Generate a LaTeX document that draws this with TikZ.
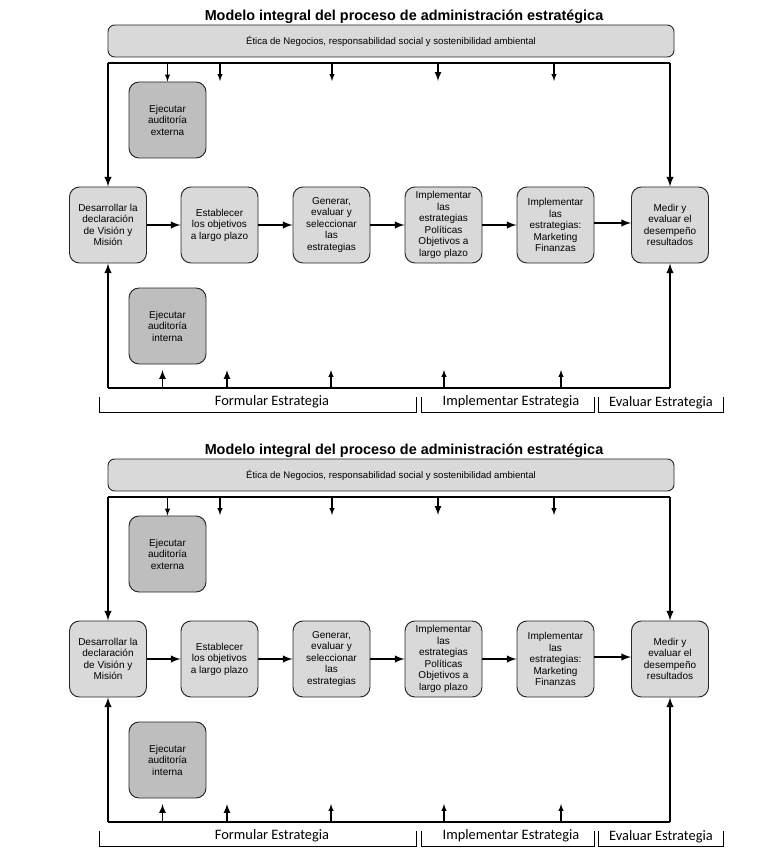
\documentclass[tikz,border=0pt]{standalone}
\usepackage{fontspec}
\setmainfont{Liberation Sans}
\newfontfamily\calibri{Carlito}
\definecolor{grisclaro}{HTML}{D9D9D9}
\definecolor{grisoscuro}{HTML}{BEBEBE}

\begin{document}
\begin{tikzpicture}[
	x=0.75pt, y=-0.75pt,
	>=latex,
	micaja/.style ={draw=black!85, fill=grisclaro, rounded corners=7.5pt, line width=0.7pt,
		minimum width=57.75pt, minimum height=57pt, inner sep=1pt, align=center,
		font=\fontsize{7.5}{8.6}\selectfont},
	miauditoria/.style ={micaja, fill=grisoscuro},
	mibarra/.style ={draw=black!85, fill=grisclaro, rounded corners=5pt, line width=0.7pt,
		minimum width=424.5pt, minimum height=24pt, font=\fontsize{7.2}{8}\selectfont},
	mititulo/.style ={font=\bfseries\fontsize{10.8}{12}\selectfont},
	mietapa/.style ={font=\calibri\fontsize{10.8}{12}\selectfont},
	migrueso/.style ={line width=1.5pt},
	mifino/.style ={line width=0.8pt}]

	\useasboundingbox (0,0) rectangle (768,866);

	\foreach \c/\dy in {a/0,b/434}{
	\begin{scope}[shift={(0,\dy)}]

	\node[mititulo] (titulo\c) at (404,17) {Modelo integral del proceso de administración estratégica};
	\node[mibarra] (etica\c) at (391,41) {Ética de Negocios, responsabilidad social y sostenibilidad ambiental};

	% fila principal
	\node[micaja] (vision\c) at (108,225) {Desarrollar la\\declaración\\de Visión y\\Misión};
	\node[micaja] (objetivos\c) at (219.5,225) {Establecer\\los objetivos\\a largo plazo};
	\node[micaja] (generar\c) at (331.5,225) {Generar,\\evaluar y\\seleccionar\\las\\estrategias};
	\node[micaja] (politicas\c) at (443.5,225) {Implementar\\las\\estrategias\\Políticas\\Objetivos a\\largo plazo};
	\node[micaja] (marketing\c) at (555.5,225) {Implementar\\las\\estrategias:\\Marketing\\Finanzas};
	\node[micaja] (medir\c) at (670,225) {Medir y\\evaluar el\\desempeño\\resultados};

	\node[miauditoria] (externa\c) at (167.5,120) {Ejecutar\\auditoría\\externa};
	\node[miauditoria] (interna\c) at (167.5,326) {Ejecutar\\auditoría\\interna};

	\draw[migrueso,->] (vision\c) -- (objetivos\c);
	\draw[migrueso,->] (objetivos\c) -- (generar\c);
	\draw[migrueso,->] (generar\c) -- (politicas\c);
	\draw[migrueso,->] (politicas\c) -- (marketing\c);
	\draw[migrueso,->] (marketing\c.east |- 0,223) -- (medir\c.west |- 0,223);

	% retroalimentacion superior
	\coordinate (sup\c) at (0,63);
	\draw[migrueso] (vision\c |- sup\c) -- (medir\c |- sup\c);
	\draw[migrueso,->] (vision\c |- sup\c) -- (vision\c);
	\draw[migrueso,->] (medir\c |- sup\c) -- (medir\c);
	\draw[mifino,->] (externa\c |- sup\c) -- (externa\c);
	\foreach \x/\w in {220/0.8pt,332/0.8pt,438/1.3pt,554/0.8pt}
		\draw[line width=\w,->] (\x,63) -- (\x,81);

	% retroalimentacion inferior
	\coordinate (inf\c) at (0,388);
	\draw[migrueso] (vision\c |- inf\c) -- (medir\c |- inf\c);
	\draw[migrueso,->] (vision\c |- inf\c) -- (vision\c);
	\draw[migrueso,->] (medir\c |- inf\c) -- (medir\c);
	\foreach \x/\w in {162.5/1.3pt,227/1.3pt,331/0.8pt,444/0.8pt,561/0.8pt}
		\draw[line width=\w,->] (\x,388) -- (\x,370);

	% etapas
	\draw[line width=0.6pt] (99,397) |- (416,412) -- (416,397);
	\draw[line width=0.6pt] (421,397) |- (594,412) -- (594,397);
	\draw[line width=0.6pt] (598,397) |- (723,412) -- (723,397);
	\node[mietapa] (formular\c) at (272,402) {Formular Estrategia};
	\node[mietapa] (implementar\c) at (511,402) {Implementar Estrategia};
	\node[mietapa] (evaluar\c) at (661,403) {Evaluar Estrategia};

	\end{scope}
	}

\end{tikzpicture}
\end{document}
